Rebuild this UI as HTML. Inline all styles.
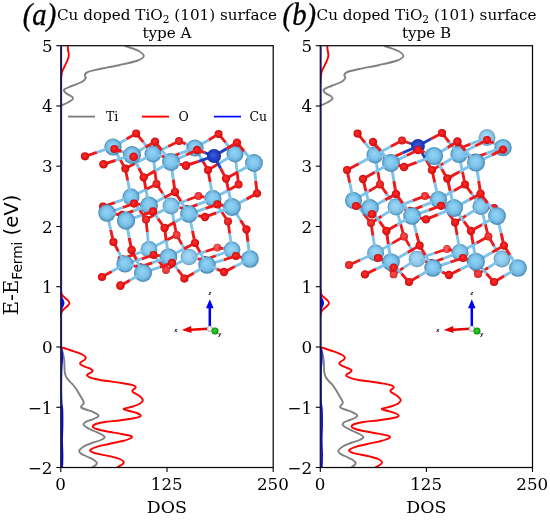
<!DOCTYPE html>
<html lang="en"><head><meta charset="utf-8"><title>Cu doped TiO2 (101) surface DOS</title>
<style>
html,body{margin:0;padding:0;background:#fff}
body{width:550px;height:520px;overflow:hidden}
svg{display:block}
text{font-family:"DejaVu Serif","Liberation Serif",serif;fill:#000}
.tl{font-size:16.7px}
.al{font-size:17.4px}
.yl{font-size:19.6px}
.tt{font-size:15.2px}
.sub{font-size:10.6px}
.lg{font-size:12.5px}
.pl{font-family:"Liberation Serif","DejaVu Serif",serif;font-style:italic;font-size:31px;stroke:#000;stroke-width:0.35px}
.tr{font-family:"Liberation Sans","DejaVu Sans",sans-serif;font-size:5.5px;font-weight:bold;font-style:italic}
.fs{font-family:"DejaVu Sans","Liberation Sans",sans-serif;font-size:13.7px}
.ss{font-family:"DejaVu Sans","Liberation Sans",sans-serif;font-size:19.6px}
.ti,.o,.cu,.cu2,.tk,.bT,.bO,.bC{fill:none}
.ti{stroke:#808080;stroke-width:1.9;stroke-linejoin:round;stroke-linecap:butt}
.o{stroke:#ff0000;stroke-width:1.9;stroke-linejoin:round}
.cu{stroke:#0000ff;stroke-width:1.7;stroke-linejoin:round}
.cuf{fill:#0000ff;stroke:#0000ff;stroke-width:1}
.cu2{stroke:#181878;stroke-width:1.15}
.fr{fill:none;stroke:#0a0a0a;stroke-width:1.25}
.tk{stroke:#000;stroke-width:1.1}
.bT{stroke:#7cc2ea;stroke-linecap:butt}
.bO{stroke:#ec1a1a;stroke-linecap:butt}
.bC{stroke:#2040c4;stroke-linecap:butt}
</style></head>
<body>
<svg width="550" height="520" viewBox="0 0 550 520">
<defs>
<radialGradient id="gT" cx="0.5" cy="0.5" r="0.5" fx="0.44" fy="0.40"><stop offset="0" stop-color="#93d3f7"/><stop offset="0.5" stop-color="#80c6ed"/><stop offset="0.75" stop-color="#6fb6df"/><stop offset="0.9" stop-color="#5799c4"/><stop offset="1" stop-color="#3f7ea8"/></radialGradient>
<radialGradient id="gO" cx="0.5" cy="0.5" r="0.5" fx="0.44" fy="0.40"><stop offset="0" stop-color="#ff3434"/><stop offset="0.55" stop-color="#f01818"/><stop offset="0.85" stop-color="#d81212"/><stop offset="1" stop-color="#b00c0c"/></radialGradient>
<radialGradient id="gC" cx="0.5" cy="0.5" r="0.5" fx="0.44" fy="0.40"><stop offset="0" stop-color="#3a5ce0"/><stop offset="0.55" stop-color="#2344c8"/><stop offset="0.85" stop-color="#1c38ac"/><stop offset="1" stop-color="#142a88"/></radialGradient>
<radialGradient id="gG" cx="0.5" cy="0.5" r="0.5" fx="0.42" fy="0.38"><stop offset="0" stop-color="#35d535"/><stop offset="0.7" stop-color="#12b012"/><stop offset="1" stop-color="#0a7a0a"/></radialGradient>
<radialGradient id="gW" cx="0.5" cy="0.5" r="0.5" fx="0.42" fy="0.38"><stop offset="0" stop-color="#ffffff"/><stop offset="0.7" stop-color="#e0e0e0"/><stop offset="1" stop-color="#8c8c8c"/></radialGradient>
</defs>
<rect width="550" height="520" fill="#fff"/>
<clipPath id="c60"><rect x="60.75" y="45.70" width="212.45" height="421.82"/></clipPath>
<g>
<g clip-path="url(#c60)"><path d="M124.8 46.0C125.6 46.2 127.4 46.7 129.8 47.5C132.1 48.3 136.4 49.6 138.8 51.0C141.1 52.4 143.9 54.4 143.8 56.0C143.6 57.6 141.8 59.0 137.8 60.5C133.8 62.0 126.1 63.6 119.8 65.0C113.4 66.4 105.1 67.8 99.8 69.0C94.4 70.2 90.2 71.0 87.8 72.0C85.2 73.0 85.1 74.0 84.8 75.0C84.4 76.0 86.2 76.8 85.8 78.0C85.2 79.2 84.1 80.7 81.8 82.0C79.4 83.3 74.7 84.8 71.8 86.0C68.8 87.2 65.2 88.3 64.2 89.5C63.2 90.7 64.5 91.8 65.8 93.0C67.0 94.2 70.5 95.5 71.8 96.5C73.0 97.5 73.6 98.0 73.0 99.0C72.3 100.0 69.7 101.4 67.8 102.5C65.8 103.6 62.3 104.9 61.2 105.4" class="ti"/><path d="M60.8 347.0C61.0 347.5 61.6 348.5 62.0 350.0C62.5 351.5 63.2 354.0 63.5 356.0C63.9 358.0 64.2 360.0 64.3 362.0C64.5 364.0 64.5 366.3 64.5 368.0C64.6 369.7 64.5 370.5 64.8 372.0C65.0 373.5 65.4 375.4 66.2 377.0C67.1 378.6 68.6 380.2 69.8 381.5C70.9 382.8 72.1 383.6 73.2 385.0C74.4 386.4 75.7 388.3 76.8 390.0C77.8 391.7 78.8 393.3 79.8 395.0C80.8 396.7 82.1 398.7 82.8 400.0C83.4 401.3 83.9 402.1 83.8 403.0C83.6 403.9 82.2 404.8 81.8 405.5C81.3 406.2 80.6 406.8 81.2 407.5C81.9 408.2 83.8 408.8 85.8 409.5C87.7 410.2 90.7 410.9 92.8 411.8C94.8 412.7 97.6 414.1 98.2 415.0C98.9 415.9 98.0 416.7 96.8 417.5C95.5 418.3 92.8 419.2 90.8 420.0C88.8 420.8 85.9 421.7 84.8 422.5C83.6 423.3 83.4 424.2 83.8 425.0C84.1 425.8 85.1 426.5 86.8 427.5C88.4 428.5 91.4 429.9 93.8 431.0C96.1 432.1 98.9 433.0 100.8 434.0C102.6 435.0 104.8 436.2 104.8 437.2C104.8 438.2 102.9 439.0 100.8 440.0C98.6 441.0 94.6 441.9 91.8 443.0C88.9 444.1 85.8 445.2 83.8 446.5C81.7 447.8 79.8 449.3 79.2 450.5C78.8 451.7 79.5 452.5 80.8 453.5C82.0 454.5 84.8 455.5 86.8 456.5C88.8 457.5 91.1 458.3 92.8 459.3C94.4 460.3 96.2 461.6 96.8 462.5C97.2 463.4 96.5 464.2 95.8 465.0C95.0 465.8 92.8 467.0 92.2 467.4" class="ti"/><path d="M67.8 46.0C67.8 46.7 67.9 48.7 68.0 50.0C68.2 51.3 68.7 52.7 68.8 54.0C68.8 55.3 68.8 56.5 68.3 58.0C67.9 59.5 67.0 61.3 66.2 63.0C65.5 64.7 64.5 66.5 63.8 68.0C63.0 69.5 62.5 70.3 62.0 72.0C61.6 73.7 61.3 76.0 61.0 78.0C60.8 80.0 60.8 83.0 60.8 84.0" class="o"/><path d="M60.8 289.0C60.8 289.2 60.8 290.0 60.9 290.5C60.9 291.0 61.0 291.5 61.1 292.0C61.2 292.5 61.3 293.0 61.5 293.5C61.7 294.0 61.9 294.5 62.3 295.0C62.6 295.5 63.0 296.0 63.5 296.5C64.0 297.0 64.6 297.5 65.1 298.0C65.7 298.5 66.4 299.0 66.9 299.5C67.5 300.0 68.1 300.5 68.5 301.0C68.9 301.5 69.2 302.0 69.3 302.5C69.4 303.0 69.3 303.5 69.1 304.0C68.9 304.5 68.5 305.0 68.0 305.5C67.5 306.0 66.9 306.5 66.3 307.0C65.8 307.5 65.1 308.0 64.5 308.5C64.0 309.0 63.5 309.5 63.0 310.0C62.6 310.5 62.3 311.0 62.0 311.5C61.7 312.0 61.5 312.5 61.3 313.0C61.2 313.5 61.1 314.0 61.0 314.5C60.9 315.0 60.9 315.5 60.8 316.0C60.8 316.5 60.8 317.2 60.8 317.5" class="o"/><path d="M60.8 347.0C61.2 347.2 62.2 347.5 63.8 348.0C65.2 348.5 67.4 349.2 69.8 350.0C72.1 350.8 75.5 351.8 77.8 352.6C80.0 353.4 81.9 354.2 83.2 355.0C84.6 355.8 85.5 356.7 85.8 357.5C86.0 358.3 85.4 358.9 84.8 359.6C84.1 360.3 82.5 361.0 81.8 361.6C81.0 362.2 80.0 362.7 80.0 363.3C80.0 363.9 80.7 364.6 81.8 365.2C82.8 365.8 84.8 366.6 86.2 367.2C87.8 367.8 89.7 368.4 90.8 369.0C91.8 369.6 92.7 370.0 92.8 370.6C92.8 371.2 92.0 371.8 91.2 372.4C90.5 373.0 89.0 373.5 88.2 374.0C87.5 374.5 86.9 374.9 87.0 375.4C87.2 375.9 88.1 376.5 89.2 377.0C90.4 377.5 91.8 378.1 93.8 378.6C95.7 379.1 97.8 379.7 100.8 380.2C103.8 380.7 108.1 381.1 111.8 381.6C115.4 382.1 119.2 382.6 122.8 383.2C126.2 383.8 130.6 384.5 132.8 385.2C134.9 385.9 135.8 386.7 135.8 387.5C135.8 388.3 133.2 389.2 132.8 390.0C132.2 390.8 131.8 391.1 132.8 392.0C133.8 392.9 137.1 394.2 138.8 395.5C140.4 396.8 142.5 398.7 142.8 400.0C143.0 401.3 141.9 402.4 140.2 403.5C138.6 404.6 135.5 405.6 132.8 406.5C130.0 407.4 124.6 408.1 123.8 408.8C122.9 409.5 125.6 409.8 127.8 410.5C129.9 411.2 134.6 412.1 136.8 413.0C138.9 413.9 141.1 415.0 140.8 415.8C140.4 416.6 138.1 417.3 134.8 418.0C131.4 418.7 125.8 419.5 120.8 420.2C115.8 420.9 108.9 421.4 104.8 422.0C100.6 422.6 97.8 423.2 95.8 424.0C93.8 424.8 92.6 426.0 92.8 426.8C92.9 427.6 94.8 428.3 96.8 429.0C98.8 429.7 100.9 430.2 104.8 431.0C108.6 431.8 115.4 432.8 119.8 433.6C124.1 434.4 128.9 435.2 130.8 436.0C132.6 436.8 132.1 437.5 130.8 438.3C129.4 439.1 126.4 440.1 122.8 441.0C119.1 441.9 113.1 443.0 108.8 444.0C104.4 445.0 99.8 445.8 96.8 446.8C93.7 447.8 90.9 449.1 90.2 450.0C89.6 450.9 91.0 451.6 92.8 452.3C94.5 453.0 97.6 453.7 100.8 454.4C103.9 455.1 108.6 455.8 111.8 456.6C114.9 457.4 117.8 458.1 119.8 459.0C121.8 459.9 123.4 461.0 123.8 462.0C124.1 463.0 122.9 463.9 121.8 464.8C120.6 465.7 117.6 467.0 116.8 467.4" class="o"/><path d="M60.8 291.0C60.8 291.2 60.8 292.0 60.9 292.5C60.9 293.0 60.9 293.5 61.0 294.0C61.1 294.5 61.2 295.0 61.3 295.5C61.4 296.0 61.6 296.5 61.8 297.0C62.0 297.5 62.2 298.0 62.4 298.5C62.7 299.0 63.0 299.5 63.2 300.0C63.4 300.5 63.6 301.0 63.7 301.5C63.9 302.0 64.0 302.5 64.0 303.0C64.0 303.5 63.9 304.0 63.7 304.5C63.6 305.0 63.4 305.5 63.2 306.0C63.0 306.5 62.7 307.0 62.4 307.5C62.2 308.0 62.0 308.5 61.8 309.0C61.6 309.5 61.4 310.0 61.3 310.5C61.2 311.0 61.1 311.5 61.0 312.0C60.9 312.5 60.9 313.0 60.9 313.5C60.8 314.0 60.8 314.8 60.8 315.0Z" class="cuf"/><path d="M60.8 347.0C61.0 347.8 61.8 349.5 62.0 352.0C62.3 354.5 62.2 358.7 62.0 362.0C61.9 365.3 61.5 365.7 61.4 372.0C61.2 378.3 61.2 393.7 61.4 400.0C61.5 406.3 62.2 405.8 62.4 410.0C62.5 414.2 62.6 420.0 62.5 425.0C62.5 430.0 62.1 435.0 62.1 440.0C62.1 445.0 62.5 450.4 62.5 455.0C62.6 459.6 62.3 465.3 62.2 467.4" class="cu"/></g>
<rect x="60.8" y="45.7" width="212.4" height="421.8" class="fr"/>
<path d="M61.55 46.2V467.0" class="cu2"/>
<path d="M60.8 467.5v4.5" class="tk"/><text x="60.5" y="489.8" class="tl" text-anchor="middle">0</text><path d="M167.0 467.5v4.5" class="tk"/><text x="166.7" y="489.8" class="tl" text-anchor="middle">125</text><path d="M273.2 467.5v4.5" class="tk"/><text x="272.9" y="489.8" class="tl" text-anchor="middle">250</text><path d="M60.8 467.5h-4.5" class="tk"/><text x="52.5" y="473.7" class="tl" text-anchor="end">−2</text><path d="M60.8 407.3h-4.5" class="tk"/><text x="52.5" y="413.5" class="tl" text-anchor="end">−1</text><path d="M60.8 347.0h-4.5" class="tk"/><text x="52.5" y="353.2" class="tl" text-anchor="end">0</text><path d="M60.8 286.7h-4.5" class="tk"/><text x="52.5" y="292.9" class="tl" text-anchor="end">1</text><path d="M60.8 226.5h-4.5" class="tk"/><text x="52.5" y="232.7" class="tl" text-anchor="end">2</text><path d="M60.8 166.2h-4.5" class="tk"/><text x="52.5" y="172.4" class="tl" text-anchor="end">3</text><path d="M60.8 106.0h-4.5" class="tk"/><text x="52.5" y="112.2" class="tl" text-anchor="end">4</text><path d="M60.8 45.7h-4.5" class="tk"/><text x="52.5" y="51.9" class="tl" text-anchor="end">5</text>
</g>
<clipPath id="c320"><rect x="320.30" y="45.70" width="212.25" height="421.82"/></clipPath>
<g>
<g clip-path="url(#c320)"><path d="M384.3 46.0C385.1 46.2 387.0 46.7 389.3 47.5C391.6 48.3 396.0 49.6 398.3 51.0C400.6 52.4 403.5 54.4 403.3 56.0C403.1 57.6 401.3 59.0 397.3 60.5C393.3 62.0 385.6 63.6 379.3 65.0C373.0 66.4 364.6 67.8 359.3 69.0C354.0 70.2 349.8 71.0 347.3 72.0C344.8 73.0 344.6 74.0 344.3 75.0C344.0 76.0 345.8 76.8 345.3 78.0C344.8 79.2 343.6 80.7 341.3 82.0C339.0 83.3 334.2 84.8 331.3 86.0C328.4 87.2 324.8 88.3 323.8 89.5C322.8 90.7 324.1 91.8 325.3 93.0C326.6 94.2 330.1 95.5 331.3 96.5C332.5 97.5 333.2 98.0 332.5 99.0C331.8 100.0 329.2 101.4 327.3 102.5C325.4 103.6 321.9 104.9 320.8 105.4" class="ti"/><path d="M320.3 347.0C320.5 347.5 321.1 348.5 321.6 350.0C322.0 351.5 322.7 354.0 323.0 356.0C323.4 358.0 323.7 360.0 323.8 362.0C324.0 364.0 324.0 366.3 324.0 368.0C324.1 369.7 323.9 370.5 324.2 372.0C324.5 373.5 324.9 375.4 325.7 377.0C326.5 378.6 328.0 380.2 329.1 381.5C330.3 382.8 331.4 383.6 332.6 385.0C333.7 386.4 334.9 388.3 336.0 390.0C337.0 391.7 337.9 393.3 338.9 395.0C339.9 396.7 341.2 398.7 341.9 400.0C342.5 401.3 343.0 402.1 342.8 403.0C342.7 403.9 341.3 404.8 340.9 405.5C340.5 406.2 339.7 406.8 340.4 407.5C341.0 408.2 342.9 408.8 344.8 409.5C346.7 410.2 349.6 410.9 351.7 411.8C353.7 412.7 356.4 414.1 357.1 415.0C357.7 415.9 356.8 416.7 355.6 417.5C354.4 418.3 351.7 419.2 349.7 420.0C347.7 420.8 345.0 421.7 343.8 422.5C342.7 423.3 342.5 424.2 342.8 425.0C343.2 425.8 344.1 426.5 345.8 427.5C347.4 428.5 350.4 429.9 352.6 431.0C354.9 432.1 357.7 433.0 359.5 434.0C361.3 435.0 363.4 436.2 363.4 437.2C363.4 438.2 361.6 439.0 359.5 440.0C357.4 441.0 353.5 441.9 350.7 443.0C347.9 444.1 344.9 445.2 342.8 446.5C340.8 447.8 338.9 449.3 338.4 450.5C337.9 451.7 338.7 452.5 339.9 453.5C341.1 454.5 343.8 455.5 345.8 456.5C347.7 457.5 350.0 458.3 351.7 459.3C353.3 460.3 355.1 461.6 355.6 462.5C356.1 463.4 355.3 464.2 354.6 465.0C353.9 465.8 351.7 467.0 351.2 467.4" class="ti"/><path d="M327.3 46.0C327.4 46.7 327.4 48.7 327.6 50.0C327.8 51.3 328.2 52.7 328.3 54.0C328.4 55.3 328.3 56.5 327.9 58.0C327.5 59.5 326.6 61.3 325.8 63.0C325.0 64.7 324.0 66.5 323.3 68.0C322.6 69.5 322.1 70.3 321.6 72.0C321.2 73.7 320.8 76.0 320.6 78.0C320.4 80.0 320.4 83.0 320.3 84.0" class="o"/><path d="M320.3 289.0C320.4 289.2 320.4 290.0 320.4 290.5C320.5 291.0 320.5 291.5 320.6 292.0C320.7 292.5 320.8 293.0 321.0 293.5C321.2 294.0 321.5 294.5 321.8 295.0C322.2 295.5 322.6 296.0 323.0 296.5C323.5 297.0 324.1 297.5 324.7 298.0C325.2 298.5 325.9 299.0 326.5 299.5C327.0 300.0 327.6 300.5 328.0 301.0C328.4 301.5 328.7 302.0 328.8 302.5C329.0 303.0 328.9 303.5 328.7 304.0C328.5 304.5 328.0 305.0 327.6 305.5C327.1 306.0 326.5 306.5 325.9 307.0C325.3 307.5 324.6 308.0 324.1 308.5C323.5 309.0 323.0 309.5 322.6 310.0C322.2 310.5 321.8 311.0 321.5 311.5C321.2 312.0 321.0 312.5 320.9 313.0C320.7 313.5 320.6 314.0 320.5 314.5C320.5 315.0 320.4 315.5 320.4 316.0C320.4 316.5 320.3 317.2 320.3 317.5" class="o"/><path d="M320.3 347.0C320.8 347.2 321.8 347.5 323.2 348.0C324.7 348.5 326.8 349.2 329.1 350.0C331.4 350.8 334.8 351.8 337.0 352.6C339.2 353.4 341.0 354.2 342.4 355.0C343.7 355.8 344.6 356.7 344.8 357.5C345.0 358.3 344.5 358.9 343.8 359.6C343.2 360.3 341.6 361.0 340.9 361.6C340.1 362.2 339.2 362.7 339.2 363.3C339.2 363.9 339.9 364.6 340.9 365.2C341.9 365.8 343.8 366.6 345.3 367.2C346.8 367.8 348.6 368.4 349.7 369.0C350.8 369.6 351.6 370.0 351.7 370.6C351.7 371.2 350.9 371.8 350.2 372.4C349.5 373.0 347.9 373.5 347.2 374.0C346.6 374.5 345.9 374.9 346.1 375.4C346.2 375.9 347.1 376.5 348.2 377.0C349.3 377.5 350.8 378.1 352.6 378.6C354.5 379.1 356.6 379.7 359.5 380.2C362.4 380.7 366.7 381.1 370.3 381.6C373.9 382.1 377.6 382.6 381.1 383.2C384.5 383.8 388.7 384.5 390.9 385.2C393.0 385.9 393.8 386.7 393.8 387.5C393.8 388.3 391.4 389.2 390.9 390.0C390.4 390.8 389.9 391.1 390.9 392.0C391.8 392.9 395.1 394.2 396.7 395.5C398.4 396.8 400.4 398.7 400.7 400.0C400.9 401.3 399.8 402.4 398.2 403.5C396.6 404.6 393.6 405.6 390.9 406.5C388.2 407.4 382.9 408.1 382.0 408.8C381.2 409.5 383.8 409.8 386.0 410.5C388.1 411.2 392.7 412.1 394.8 413.0C396.9 413.9 399.0 415.0 398.7 415.8C398.4 416.6 396.1 417.3 392.8 418.0C389.6 418.7 384.0 419.5 379.1 420.2C374.2 420.9 367.5 421.4 363.4 422.0C359.3 422.6 356.6 423.2 354.6 424.0C352.6 424.8 351.5 426.0 351.7 426.8C351.8 427.6 353.6 428.3 355.6 429.0C357.5 429.7 359.7 430.2 363.4 431.0C367.2 431.8 373.9 432.8 378.1 433.6C382.4 434.4 387.1 435.2 388.9 436.0C390.7 436.8 390.2 437.5 388.9 438.3C387.6 439.1 384.7 440.1 381.1 441.0C377.5 441.9 371.6 443.0 367.3 444.0C363.1 445.0 358.6 445.8 355.6 446.8C352.6 447.8 349.9 449.1 349.2 450.0C348.6 450.9 349.9 451.6 351.7 452.3C353.4 453.0 356.4 453.7 359.5 454.4C362.6 455.1 367.2 455.8 370.3 456.6C373.4 457.4 376.2 458.1 378.1 459.0C380.1 459.9 381.7 461.0 382.0 462.0C382.4 463.0 381.2 463.9 380.1 464.8C378.9 465.7 376.0 467.0 375.2 467.4" class="o"/><path d="M320.3 291.0C320.3 291.2 320.4 292.0 320.4 292.5C320.4 293.0 320.5 293.5 320.6 294.0C320.6 294.5 320.7 295.0 320.9 295.5C321.0 296.0 321.1 296.5 321.3 297.0C321.5 297.5 321.8 298.0 322.0 298.5C322.2 299.0 322.5 299.5 322.7 300.0C322.9 300.5 323.2 301.0 323.3 301.5C323.4 302.0 323.5 302.5 323.5 303.0C323.5 303.5 323.4 304.0 323.3 304.5C323.2 305.0 322.9 305.5 322.7 306.0C322.5 306.5 322.2 307.0 322.0 307.5C321.8 308.0 321.5 308.5 321.3 309.0C321.1 309.5 321.0 310.0 320.9 310.5C320.7 311.0 320.6 311.5 320.6 312.0C320.5 312.5 320.4 313.0 320.4 313.5C320.4 314.0 320.3 314.8 320.3 315.0Z" class="cuf"/><path d="M320.3 347.0C320.5 347.8 321.4 349.5 321.6 352.0C321.8 354.5 321.7 358.7 321.6 362.0C321.5 365.3 321.0 365.7 320.9 372.0C320.8 378.3 320.7 393.7 320.9 400.0C321.1 406.3 321.7 405.8 321.9 410.0C322.1 414.2 322.1 420.0 322.1 425.0C322.0 430.0 321.7 435.0 321.7 440.0C321.7 445.0 322.0 450.4 322.1 455.0C322.1 459.6 321.8 465.3 321.8 467.4" class="cu"/></g>
<rect x="320.3" y="45.7" width="212.2" height="421.8" class="fr"/>
<path d="M321.10 46.2V467.0" class="cu2"/>
<path d="M320.3 467.5v4.5" class="tk"/><text x="320.0" y="489.8" class="tl" text-anchor="middle">0</text><path d="M426.4 467.5v4.5" class="tk"/><text x="426.1" y="489.8" class="tl" text-anchor="middle">125</text><path d="M532.5 467.5v4.5" class="tk"/><text x="532.2" y="489.8" class="tl" text-anchor="middle">250</text><path d="M320.3 467.5h-4.5" class="tk"/><text x="312.1" y="473.7" class="tl" text-anchor="end">−2</text><path d="M320.3 407.3h-4.5" class="tk"/><text x="312.1" y="413.5" class="tl" text-anchor="end">−1</text><path d="M320.3 347.0h-4.5" class="tk"/><text x="312.1" y="353.2" class="tl" text-anchor="end">0</text><path d="M320.3 286.7h-4.5" class="tk"/><text x="312.1" y="292.9" class="tl" text-anchor="end">1</text><path d="M320.3 226.5h-4.5" class="tk"/><text x="312.1" y="232.7" class="tl" text-anchor="end">2</text><path d="M320.3 166.2h-4.5" class="tk"/><text x="312.1" y="172.4" class="tl" text-anchor="end">3</text><path d="M320.3 106.0h-4.5" class="tk"/><text x="312.1" y="112.2" class="tl" text-anchor="end">4</text><path d="M320.3 45.7h-4.5" class="tk"/><text x="312.1" y="51.9" class="tl" text-anchor="end">5</text>
</g>
<g><circle cx="217.4" cy="247.6" r="3.9" fill="url(#gO)"/><circle cx="217.4" cy="247.6" r="3.9" fill="#fff" fill-opacity="0.24"/><path d="M214.5 248.6L205.5 251.5" class="bO" stroke-width="2.75"/><path d="M195.3 254.9L205.5 251.5" class="bT" stroke-width="2.75"/><path d="M218.9 247.8L223.5 248.6" class="bO" stroke-width="2.77"/><circle cx="189.0" cy="257.0" r="8.3" fill="url(#gT)"/><circle cx="189.0" cy="257.0" r="8.3" fill="#fff" fill-opacity="0.19"/><path d="M183.9 259.9L175.7 264.5" class="bT" stroke-width="2.77"/><path d="M186.3 252.1L181.8 244.2" class="bT" stroke-width="2.77"/><path d="M168.4 268.6L175.7 264.5" class="bO" stroke-width="2.77"/><path d="M177.9 237.3L181.8 244.2" class="bO" stroke-width="2.77"/><path d="M192.3 257.7L197.7 258.8" class="bT" stroke-width="2.80"/><circle cx="166.0" cy="270.0" r="3.9" fill="url(#gO)"/><circle cx="166.0" cy="270.0" r="3.9" fill="#fff" fill-opacity="0.15"/><circle cx="198.5" cy="196.0" r="3.9" fill="url(#gO)"/><circle cx="198.5" cy="196.0" r="3.9" fill="#fff" fill-opacity="0.15"/><circle cx="176.6" cy="235.0" r="3.9" fill="url(#gO)"/><circle cx="176.6" cy="235.0" r="3.9" fill="#fff" fill-opacity="0.14"/><path d="M195.6 197.0L186.9 200.2" class="bO" stroke-width="2.79"/><path d="M164.2 267.8L158.9 261.3" class="bO" stroke-width="2.79"/><path d="M176.0 232.0L174.2 222.8" class="bO" stroke-width="2.79"/><path d="M173.8 236.5L165.0 241.0" class="bO" stroke-width="2.79"/><path d="M228.7 249.5L223.5 248.6" class="bT" stroke-width="2.77"/><path d="M177.2 203.8L186.9 200.2" class="bT" stroke-width="2.79"/><path d="M200.0 196.3L204.6 197.1" class="bO" stroke-width="2.80"/><path d="M172.3 212.5L174.2 222.8" class="bT" stroke-width="2.79"/><path d="M152.8 254.0L158.9 261.3" class="bT" stroke-width="2.79"/><path d="M155.0 246.3L165.0 241.0" class="bT" stroke-width="2.79"/><circle cx="171.0" cy="206.0" r="8.4" fill="url(#gT)"/><circle cx="171.0" cy="206.0" r="8.4" fill="#fff" fill-opacity="0.10"/><circle cx="149.0" cy="249.4" r="8.4" fill="url(#gT)"/><circle cx="149.0" cy="249.4" r="8.4" fill="#fff" fill-opacity="0.09"/><path d="M165.4 209.0L156.5 213.8" class="bT" stroke-width="2.81"/><path d="M167.8 201.1L162.6 193.2" class="bT" stroke-width="2.81"/><circle cx="232.0" cy="250.0" r="8.4" fill="url(#gT)"/><circle cx="232.0" cy="250.0" r="8.4" fill="#fff" fill-opacity="0.08"/><path d="M148.3 242.7L147.3 232.1" class="bT" stroke-width="2.81"/><path d="M142.9 251.5L133.1 254.9" class="bT" stroke-width="2.81"/><path d="M231.1 243.6L229.7 233.5" class="bT" stroke-width="2.81"/><path d="M202.5 259.7L197.7 258.8" class="bO" stroke-width="2.80"/><path d="M225.7 252.3L215.8 255.8" class="bT" stroke-width="2.81"/><path d="M148.7 218.1L156.5 213.8" class="bO" stroke-width="2.81"/><path d="M146.3 222.7L147.3 232.1" class="bO" stroke-width="2.81"/><path d="M158.0 186.3L162.6 193.2" class="bO" stroke-width="2.81"/><path d="M124.5 257.9L133.1 254.9" class="bO" stroke-width="2.81"/><path d="M174.4 206.7L179.8 207.7" class="bT" stroke-width="2.83"/><circle cx="146.0" cy="219.5" r="4.0" fill="url(#gO)"/><circle cx="146.0" cy="219.5" r="4.0" fill="#fff" fill-opacity="0.05"/><circle cx="179.0" cy="141.0" r="4.0" fill="url(#gO)"/><circle cx="179.0" cy="141.0" r="4.0" fill="#fff" fill-opacity="0.05"/><path d="M228.4 224.5L229.7 233.5" class="bO" stroke-width="2.81"/><path d="M207.0 259.0L215.8 255.8" class="bO" stroke-width="2.81"/><circle cx="121.6" cy="258.9" r="4.0" fill="url(#gO)"/><circle cx="121.6" cy="258.9" r="4.0" fill="#fff" fill-opacity="0.04"/><circle cx="228.0" cy="221.5" r="4.0" fill="url(#gO)"/><circle cx="228.0" cy="221.5" r="4.0" fill="#fff" fill-opacity="0.04"/><circle cx="156.5" cy="184.0" r="4.0" fill="url(#gO)"/><circle cx="156.5" cy="184.0" r="4.0" fill="#fff" fill-opacity="0.04"/><path d="M176.2 142.4L168.1 146.5" class="bO" stroke-width="2.82"/><path d="M144.4 217.1L139.7 210.1" class="bO" stroke-width="2.82"/><path d="M150.0 250.7L151.7 252.6" class="bT" stroke-width="2.84"/><path d="M156.1 180.8L155.0 171.4" class="bO" stroke-width="2.82"/><circle cx="204.1" cy="260.1" r="4.0" fill="url(#gO)"/><circle cx="204.1" cy="260.1" r="4.0" fill="#fff" fill-opacity="0.03"/><circle cx="238.6" cy="184.6" r="4.0" fill="url(#gO)"/><circle cx="238.6" cy="184.6" r="4.0" fill="#fff" fill-opacity="0.03"/><path d="M153.8 185.4L145.8 189.5" class="bO" stroke-width="2.82"/><path d="M209.7 197.9L204.6 197.1" class="bT" stroke-width="2.80"/><path d="M226.4 219.1L221.7 211.8" class="bO" stroke-width="2.82"/><path d="M232.9 251.3L234.3 253.5" class="bT" stroke-width="2.84"/><path d="M238.2 181.4L237.1 171.7" class="bO" stroke-width="2.83"/><path d="M235.9 186.1L227.8 190.4" class="bO" stroke-width="2.83"/><path d="M158.9 151.1L168.1 146.5" class="bT" stroke-width="2.82"/><path d="M180.7 141.7L185.7 143.9" class="bO" stroke-width="2.84"/><path d="M153.8 160.7L155.0 171.4" class="bT" stroke-width="2.82"/><path d="M134.4 202.1L139.7 210.1" class="bT" stroke-width="2.82"/><path d="M136.8 194.1L145.8 189.5" class="bT" stroke-width="2.82"/><path d="M235.8 160.8L237.1 171.7" class="bT" stroke-width="2.83"/><path d="M122.0 259.5L123.0 261.0" class="bO" stroke-width="2.84"/><circle cx="153.0" cy="154.0" r="8.5" fill="url(#gT)"/><path d="M216.4 203.7L221.7 211.8" class="bT" stroke-width="2.82"/><path d="M218.8 195.3L227.8 190.4" class="bT" stroke-width="2.83"/><path d="M204.4 260.6L205.3 262.1" class="bO" stroke-width="2.85"/><circle cx="131.0" cy="197.0" r="8.5" fill="url(#gT)"/><circle cx="235.0" cy="154.0" r="8.5" fill="url(#gT)"/><path d="M147.0 157.2L136.9 162.5" class="bT" stroke-width="2.84"/><path d="M149.2 149.3L143.3 142.1" class="bT" stroke-width="2.84"/><circle cx="213.0" cy="198.5" r="8.5" fill="url(#gT)"/><path d="M129.7 190.6L127.7 180.5" class="bT" stroke-width="2.84"/><path d="M124.7 199.2L114.8 202.6" class="bT" stroke-width="2.84"/><path d="M229.1 157.5L219.3 163.3" class="bT" stroke-width="2.84"/><path d="M231.3 149.5L225.5 142.4" class="bT" stroke-width="2.85"/><path d="M211.9 192.0L210.1 182.0" class="bT" stroke-width="2.84"/><path d="M184.5 208.7L179.8 207.7" class="bO" stroke-width="2.83"/><path d="M206.9 200.9L197.4 204.6" class="bT" stroke-width="2.85"/><path d="M128.1 167.1L136.9 162.5" class="bO" stroke-width="2.84"/><path d="M125.9 171.6L127.7 180.5" class="bO" stroke-width="2.84"/><path d="M138.0 135.6L143.3 142.1" class="bO" stroke-width="2.84"/><path d="M106.0 205.6L114.8 202.6" class="bO" stroke-width="2.84"/><path d="M156.4 154.9L161.8 156.2" class="bT" stroke-width="2.86"/><path d="M210.8 168.4L219.3 163.3" class="bO" stroke-width="2.84"/><circle cx="125.3" cy="168.6" r="4.0" fill="url(#gO)"/><path d="M208.5 173.1L210.1 182.0" class="bO" stroke-width="2.84"/><path d="M220.4 136.2L225.5 142.4" class="bO" stroke-width="2.85"/><path d="M189.0 207.8L197.4 204.6" class="bO" stroke-width="2.85"/><path d="M153.1 254.4L151.7 252.6" class="bO" stroke-width="2.84"/><circle cx="103.0" cy="206.6" r="4.0" fill="url(#gO)"/><circle cx="208.0" cy="170.0" r="4.0" fill="url(#gO)"/><circle cx="136.2" cy="133.4" r="4.0" fill="url(#gO)"/><path d="M124.0 166.3L120.1 159.5" class="bO" stroke-width="2.86"/><path d="M131.7 198.5L132.7 200.8" class="bT" stroke-width="2.87"/><path d="M235.6 255.4L234.3 253.5" class="bO" stroke-width="2.84"/><circle cx="186.1" cy="209.0" r="4.0" fill="url(#gO)"/><circle cx="218.6" cy="134.0" r="4.0" fill="url(#gO)"/><path d="M133.7 134.9L126.5 139.1" class="bO" stroke-width="2.86"/><path d="M191.3 146.4L185.7 143.9" class="bT" stroke-width="2.84"/><path d="M206.6 167.6L202.5 160.8" class="bO" stroke-width="2.86"/><path d="M214.0 199.8L215.6 201.9" class="bT" stroke-width="2.87"/><path d="M216.1 135.5L208.7 139.9" class="bO" stroke-width="2.86"/><path d="M115.8 152.0L120.1 159.5" class="bT" stroke-width="2.86"/><path d="M124.2 262.8L123.0 261.0" class="bT" stroke-width="2.84"/><path d="M118.3 143.9L126.5 139.1" class="bT" stroke-width="2.86"/><circle cx="153.6" cy="255.0" r="4.0" fill="url(#gO)"/><path d="M103.4 207.3L104.7 209.3" class="bO" stroke-width="2.88"/><path d="M198.0 153.1L202.5 160.8" class="bT" stroke-width="2.86"/><path d="M206.3 263.9L205.3 262.1" class="bT" stroke-width="2.85"/><path d="M200.4 144.8L208.7 139.9" class="bT" stroke-width="2.86"/><circle cx="236.0" cy="256.0" r="4.1" fill="url(#gO)"/><path d="M186.4 209.5L187.3 211.1" class="bO" stroke-width="2.88"/><path d="M150.5 256.0L141.6 258.8" class="bO" stroke-width="2.87"/><circle cx="113.0" cy="147.0" r="8.6" fill="url(#gT)"/><path d="M232.9 257.0L223.8 259.8" class="bO" stroke-width="2.87"/><circle cx="195.0" cy="148.0" r="8.6" fill="url(#gT)"/><path d="M106.6 149.1L96.8 152.4" class="bT" stroke-width="2.88"/><path d="M166.5 157.5L161.8 156.2" class="bO" stroke-width="2.86"/><path d="M131.6 261.9L141.6 258.8" class="bT" stroke-width="2.87"/><path d="M188.8 150.3L179.4 153.7" class="bT" stroke-width="2.88"/><path d="M155.2 255.2L159.9 255.8" class="bO" stroke-width="2.89"/><path d="M213.6 262.9L223.8 259.8" class="bT" stroke-width="2.87"/><path d="M237.5 256.3L241.9 257.3" class="bO" stroke-width="2.89"/><circle cx="125.0" cy="264.0" r="8.6" fill="url(#gT)"/><path d="M88.0 155.3L96.8 152.4" class="bO" stroke-width="2.88"/><circle cx="207.0" cy="265.0" r="8.7" fill="url(#gT)"/><path d="M171.1 156.8L179.4 153.7" class="bO" stroke-width="2.88"/><path d="M133.7 202.9L132.7 200.8" class="bO" stroke-width="2.87"/><circle cx="85.0" cy="156.3" r="4.1" fill="url(#gO)"/><path d="M119.7 267.0L111.7 271.5" class="bT" stroke-width="2.89"/><path d="M113.3 147.5L113.8 148.2" class="bT" stroke-width="2.91"/><path d="M122.3 258.9L118.3 251.2" class="bT" stroke-width="2.89"/><path d="M216.9 203.8L215.6 201.9" class="bO" stroke-width="2.87"/><circle cx="168.2" cy="157.9" r="4.1" fill="url(#gO)"/><path d="M201.8 268.1L193.9 272.9" class="bT" stroke-width="2.89"/><path d="M195.5 148.5L196.2 149.2" class="bT" stroke-width="2.91"/><path d="M204.2 259.9L200.0 252.2" class="bT" stroke-width="2.90"/><path d="M104.5 275.6L111.7 271.5" class="bO" stroke-width="2.89"/><path d="M106.1 211.5L104.7 209.3" class="bT" stroke-width="2.88"/><path d="M114.7 244.4L118.3 251.2" class="bO" stroke-width="2.89"/><path d="M128.5 264.7L133.8 265.8" class="bT" stroke-width="2.91"/><path d="M186.9 277.1L193.9 272.9" class="bO" stroke-width="2.89"/><circle cx="102.0" cy="277.0" r="4.1" fill="url(#gO)"/><circle cx="134.0" cy="203.6" r="4.1" fill="url(#gO)"/><path d="M188.3 212.8L187.3 211.1" class="bT" stroke-width="2.88"/><path d="M196.3 245.4L200.0 252.2" class="bO" stroke-width="2.90"/><path d="M210.9 266.6L216.9 269.1" class="bT" stroke-width="2.92"/><circle cx="184.4" cy="278.6" r="4.1" fill="url(#gO)"/><circle cx="113.4" cy="242.0" r="4.1" fill="url(#gO)"/><circle cx="217.4" cy="204.4" r="4.1" fill="url(#gO)"/><path d="M168.5 158.3L169.4 159.6" class="bO" stroke-width="2.92"/><path d="M131.0 204.6L122.7 207.5" class="bO" stroke-width="2.91"/><path d="M112.7 238.8L110.7 229.8" class="bO" stroke-width="2.91"/><circle cx="195.0" cy="243.0" r="4.1" fill="url(#gO)"/><path d="M165.0 256.5L159.9 255.8" class="bT" stroke-width="2.89"/><path d="M214.3 205.5L205.5 208.4" class="bO" stroke-width="2.91"/><path d="M182.7 276.2L177.7 269.5" class="bO" stroke-width="2.91"/><path d="M194.3 239.8L192.5 230.8" class="bO" stroke-width="2.91"/><path d="M192.1 244.5L183.9 248.9" class="bO" stroke-width="2.91"/><path d="M246.7 258.3L241.9 257.3" class="bT" stroke-width="2.89"/><path d="M113.3 210.8L122.7 207.5" class="bT" stroke-width="2.91"/><path d="M135.6 203.8L140.3 204.4" class="bO" stroke-width="2.92"/><path d="M108.5 219.8L110.7 229.8" class="bT" stroke-width="2.91"/><path d="M195.6 211.8L205.5 208.4" class="bT" stroke-width="2.91"/><path d="M219.0 204.7L223.5 205.5" class="bO" stroke-width="2.93"/><path d="M190.4 220.8L192.5 230.8" class="bT" stroke-width="2.91"/><circle cx="107.0" cy="213.0" r="8.7" fill="url(#gT)"/><path d="M172.2 262.0L177.7 269.5" class="bT" stroke-width="2.91"/><path d="M174.7 253.7L183.9 248.9" class="bT" stroke-width="2.91"/><circle cx="189.0" cy="214.0" r="8.8" fill="url(#gT)"/><path d="M114.2 148.8L113.8 148.2" class="bO" stroke-width="2.91"/><circle cx="168.5" cy="257.0" r="8.8" fill="url(#gT)"/><path d="M196.8 149.8L196.2 149.2" class="bO" stroke-width="2.91"/><path d="M183.3 217.3L174.8 222.1" class="bT" stroke-width="2.93"/><path d="M185.7 208.9L180.9 201.2" class="bT" stroke-width="2.93"/><circle cx="250.0" cy="259.0" r="8.8" fill="url(#gT)"/><path d="M167.6 250.2L166.2 240.2" class="bT" stroke-width="2.93"/><path d="M138.5 266.8L133.8 265.8" class="bO" stroke-width="2.91"/><path d="M161.9 259.4L152.1 262.9" class="bT" stroke-width="2.93"/><path d="M249.2 252.1L247.9 241.8" class="bT" stroke-width="2.93"/><path d="M222.1 271.2L216.9 269.1" class="bO" stroke-width="2.92"/><path d="M243.9 262.0L234.9 266.5" class="bT" stroke-width="2.94"/><path d="M110.5 213.5L115.7 214.2" class="bT" stroke-width="2.95"/><path d="M167.3 226.5L174.8 222.1" class="bO" stroke-width="2.93"/><circle cx="114.4" cy="149.0" r="4.1" fill="url(#gO)"/><path d="M165.0 231.2L166.2 240.2" class="bO" stroke-width="2.93"/><path d="M170.3 161.0L169.4 159.6" class="bT" stroke-width="2.92"/><path d="M176.6 194.4L180.9 201.2" class="bO" stroke-width="2.93"/><path d="M143.3 266.0L152.1 262.9" class="bO" stroke-width="2.93"/><path d="M192.7 214.7L198.3 215.7" class="bT" stroke-width="2.95"/><circle cx="164.6" cy="228.0" r="4.2" fill="url(#gO)"/><circle cx="197.0" cy="150.0" r="4.2" fill="url(#gO)"/><path d="M246.8 232.7L247.9 241.8" class="bO" stroke-width="2.93"/><path d="M226.9 270.6L234.9 266.5" class="bO" stroke-width="2.94"/><circle cx="140.1" cy="267.2" r="4.2" fill="url(#gO)"/><circle cx="246.4" cy="229.4" r="4.2" fill="url(#gO)"/><circle cx="175.0" cy="192.0" r="4.2" fill="url(#gO)"/><path d="M145.5 205.1L140.3 204.4" class="bT" stroke-width="2.92"/><path d="M194.1 151.3L186.1 155.0" class="bO" stroke-width="2.94"/><path d="M162.9 225.5L158.0 218.6" class="bO" stroke-width="2.94"/><path d="M169.3 258.4L170.5 260.5" class="bT" stroke-width="2.96"/><path d="M174.6 188.7L173.3 179.4" class="bO" stroke-width="2.95"/><circle cx="224.0" cy="272.0" r="4.2" fill="url(#gO)"/><circle cx="257.0" cy="193.4" r="4.2" fill="url(#gO)"/><path d="M172.1 193.5L164.1 197.7" class="bO" stroke-width="2.95"/><path d="M228.5 206.4L223.5 205.5" class="bT" stroke-width="2.93"/><path d="M244.8 226.9L240.4 220.0" class="bO" stroke-width="2.95"/><path d="M116.3 149.7L121.8 151.5" class="bO" stroke-width="2.96"/><path d="M256.7 190.1L255.7 180.6" class="bO" stroke-width="2.95"/><path d="M254.2 194.9L246.5 199.1" class="bO" stroke-width="2.95"/><path d="M177.1 159.2L186.1 155.0" class="bT" stroke-width="2.94"/><path d="M171.9 169.0L173.3 179.4" class="bT" stroke-width="2.95"/><path d="M198.9 150.7L204.7 152.7" class="bO" stroke-width="2.96"/><path d="M152.7 210.8L158.0 218.6" class="bT" stroke-width="2.94"/><path d="M155.1 202.3L164.1 197.7" class="bT" stroke-width="2.95"/><path d="M254.7 170.1L255.7 180.6" class="bT" stroke-width="2.95"/><path d="M140.5 267.8L141.3 269.6" class="bO" stroke-width="2.97"/><circle cx="171.0" cy="162.0" r="8.9" fill="url(#gT)"/><path d="M235.4 212.3L240.4 220.0" class="bT" stroke-width="2.95"/><path d="M237.9 203.8L246.5 199.1" class="bT" stroke-width="2.95"/><circle cx="149.0" cy="205.5" r="8.9" fill="url(#gT)"/><circle cx="254.0" cy="163.0" r="8.9" fill="url(#gT)"/><path d="M164.8 165.5L155.2 170.9" class="bT" stroke-width="2.96"/><path d="M167.2 157.2L161.7 150.2" class="bT" stroke-width="2.96"/><circle cx="232.0" cy="207.0" r="8.9" fill="url(#gT)"/><path d="M147.7 198.9L145.9 189.2" class="bT" stroke-width="2.96"/><path d="M120.3 214.8L115.7 214.2" class="bO" stroke-width="2.95"/><path d="M142.6 207.7L133.3 211.0" class="bT" stroke-width="2.97"/><path d="M247.8 166.5L237.8 172.0" class="bT" stroke-width="2.97"/><path d="M250.0 158.2L244.1 151.2" class="bT" stroke-width="2.97"/><path d="M230.6 200.3L228.5 190.5" class="bT" stroke-width="2.97"/><path d="M203.2 216.7L198.3 215.7" class="bO" stroke-width="2.95"/><path d="M225.6 209.4L216.3 212.8" class="bT" stroke-width="2.97"/><path d="M146.6 175.7L155.2 170.9" class="bO" stroke-width="2.96"/><path d="M144.3 180.5L145.9 189.2" class="bO" stroke-width="2.96"/><path d="M156.8 144.0L161.7 150.2" class="bO" stroke-width="2.96"/><path d="M125.0 213.9L133.3 211.0" class="bO" stroke-width="2.97"/><path d="M174.5 162.9L179.7 164.1" class="bT" stroke-width="2.99"/><path d="M228.9 177.0L237.8 172.0" class="bO" stroke-width="2.97"/><circle cx="143.7" cy="177.4" r="4.2" fill="url(#gO)"/><path d="M226.7 181.8L228.5 190.5" class="bO" stroke-width="2.97"/><path d="M238.9 144.9L244.1 151.2" class="bO" stroke-width="2.97"/><path d="M208.0 215.9L216.3 212.8" class="bO" stroke-width="2.97"/><path d="M171.6 262.3L170.5 260.5" class="bO" stroke-width="2.96"/><circle cx="122.0" cy="215.0" r="4.2" fill="url(#gO)"/><circle cx="226.0" cy="178.6" r="4.2" fill="url(#gO)"/><circle cx="155.0" cy="141.7" r="4.2" fill="url(#gO)"/><path d="M127.8 153.6L121.8 151.5" class="bT" stroke-width="2.96"/><path d="M142.4 174.9L138.8 168.0" class="bO" stroke-width="2.98"/><path d="M149.9 206.9L151.3 209.0" class="bT" stroke-width="2.99"/><circle cx="205.0" cy="217.0" r="4.2" fill="url(#gO)"/><circle cx="237.0" cy="142.6" r="4.2" fill="url(#gO)"/><path d="M152.4 143.2L145.3 147.3" class="bO" stroke-width="2.98"/><path d="M224.7 176.1L220.6 168.4" class="bO" stroke-width="2.98"/><path d="M210.8 154.9L204.7 152.7" class="bC" stroke-width="2.96"/><path d="M234.4 144.1L226.7 148.6" class="bO" stroke-width="2.98"/><path d="M134.8 160.4L138.8 168.0" class="bT" stroke-width="2.98"/><path d="M142.3 271.6L141.3 269.6" class="bT" stroke-width="2.97"/><path d="M137.5 151.8L145.3 147.3" class="bT" stroke-width="2.98"/><circle cx="172.0" cy="263.0" r="4.2" fill="url(#gO)"/><path d="M122.4 215.6L123.7 217.4" class="bO" stroke-width="3.00"/><path d="M216.3 160.3L220.6 168.4" class="bC" stroke-width="2.98"/><path d="M218.4 153.5L226.7 148.6" class="bC" stroke-width="2.98"/><path d="M168.8 264.1L159.8 267.2" class="bO" stroke-width="2.99"/><circle cx="132.0" cy="155.0" r="9.0" fill="url(#gT)"/><circle cx="214.0" cy="156.0" r="7.1" fill="url(#gC)"/><path d="M125.2 157.2L115.5 160.4" class="bT" stroke-width="3.00"/><path d="M208.7 157.8L198.6 161.3" class="bC" stroke-width="3.00"/><path d="M184.3 165.2L179.7 164.1" class="bO" stroke-width="2.99"/><path d="M149.8 270.6L159.8 267.2" class="bT" stroke-width="2.99"/><circle cx="143.0" cy="273.0" r="9.0" fill="url(#gT)"/><path d="M106.7 163.2L115.5 160.4" class="bO" stroke-width="3.00"/><path d="M189.2 164.5L198.6 161.3" class="bO" stroke-width="3.00"/><path d="M152.5 210.8L151.3 209.0" class="bO" stroke-width="2.99"/><circle cx="103.5" cy="164.3" r="4.3" fill="url(#gO)"/><path d="M137.6 276.0L129.9 280.3" class="bT" stroke-width="3.01"/><path d="M132.4 155.4L132.9 156.0" class="bT" stroke-width="3.03"/><path d="M140.3 267.5L136.4 259.7" class="bT" stroke-width="3.02"/><circle cx="186.0" cy="165.6" r="4.3" fill="url(#gO)"/><path d="M123.0 284.2L129.9 280.3" class="bO" stroke-width="3.01"/><path d="M125.0 219.2L123.7 217.4" class="bT" stroke-width="3.00"/><path d="M132.9 252.6L136.4 259.7" class="bO" stroke-width="3.02"/><circle cx="120.4" cy="285.6" r="4.3" fill="url(#gO)"/><circle cx="153.0" cy="211.5" r="4.3" fill="url(#gO)"/><circle cx="131.6" cy="250.0" r="4.3" fill="url(#gO)"/><path d="M149.9 212.5L141.7 215.3" class="bO" stroke-width="3.03"/><path d="M131.0 246.6L129.2 237.7" class="bO" stroke-width="3.03"/><path d="M132.6 218.4L141.7 215.3" class="bT" stroke-width="3.03"/><path d="M127.4 227.7L129.2 237.7" class="bT" stroke-width="3.03"/><circle cx="126.0" cy="220.6" r="9.1" fill="url(#gT)"/><path d="M133.4 156.5L132.9 156.0" class="bO" stroke-width="3.03"/><circle cx="133.6" cy="156.7" r="4.3" fill="url(#gO)"/></g>
<g><circle cx="479.1" cy="200.9" r="3.9" fill="url(#gO)"/><circle cx="479.1" cy="200.9" r="3.9" fill="#fff" fill-opacity="0.24"/><circle cx="447.0" cy="249.0" r="3.9" fill="url(#gO)"/><circle cx="447.0" cy="249.0" r="3.9" fill="#fff" fill-opacity="0.23"/><path d="M444.0 250.0L434.4 253.2" class="bO" stroke-width="2.77"/><path d="M423.3 256.9L434.4 253.2" class="bT" stroke-width="2.77"/><path d="M479.3 201.5L479.9 203.3" class="bO" stroke-width="2.79"/><path d="M448.4 249.4L452.5 250.4" class="bO" stroke-width="2.79"/><circle cx="417.0" cy="259.0" r="8.3" fill="url(#gT)"/><circle cx="417.0" cy="259.0" r="8.3" fill="#fff" fill-opacity="0.19"/><circle cx="487.0" cy="137.6" r="8.4" fill="url(#gT)"/><circle cx="487.0" cy="137.6" r="8.4" fill="#fff" fill-opacity="0.18"/><path d="M411.8 262.4L403.4 267.9" class="bT" stroke-width="2.79"/><path d="M414.1 254.0L409.5 245.9" class="bT" stroke-width="2.79"/><path d="M480.8 140.0L470.3 144.1" class="bT" stroke-width="2.79"/><path d="M396.1 272.8L403.4 267.9" class="bO" stroke-width="2.79"/><circle cx="393.6" cy="274.4" r="3.9" fill="url(#gO)"/><circle cx="393.6" cy="274.4" r="3.9" fill="#fff" fill-opacity="0.16"/><path d="M461.2 147.7L470.3 144.1" class="bO" stroke-width="2.79"/><circle cx="502.0" cy="259.0" r="8.4" fill="url(#gT)"/><circle cx="502.0" cy="259.0" r="8.4" fill="#fff" fill-opacity="0.15"/><path d="M405.4 238.8L409.5 245.9" class="bO" stroke-width="2.79"/><circle cx="458.2" cy="148.8" r="4.0" fill="url(#gO)"/><circle cx="458.2" cy="148.8" r="4.0" fill="#fff" fill-opacity="0.15"/><path d="M391.7 272.1L386.0 265.4" class="bO" stroke-width="2.80"/><path d="M420.2 259.9L425.3 261.3" class="bT" stroke-width="2.82"/><path d="M496.6 262.4L488.1 267.7" class="bT" stroke-width="2.80"/><circle cx="404.0" cy="236.4" r="4.0" fill="url(#gO)"/><circle cx="404.0" cy="236.4" r="4.0" fill="#fff" fill-opacity="0.14"/><path d="M499.0 253.9L494.1 245.9" class="bT" stroke-width="2.81"/><circle cx="425.0" cy="196.0" r="4.0" fill="url(#gO)"/><circle cx="425.0" cy="196.0" r="4.0" fill="#fff" fill-opacity="0.14"/><path d="M401.3 238.0L392.1 243.4" class="bO" stroke-width="2.81"/><path d="M403.2 233.3L400.6 224.1" class="bO" stroke-width="2.81"/><path d="M487.0 138.1L487.0 139.0" class="bT" stroke-width="2.82"/><path d="M422.0 197.1L412.8 200.6" class="bO" stroke-width="2.81"/><path d="M480.5 272.4L488.1 267.7" class="bO" stroke-width="2.80"/><path d="M379.7 257.8L386.0 265.4" class="bT" stroke-width="2.80"/><circle cx="478.0" cy="274.0" r="4.0" fill="url(#gO)"/><circle cx="478.0" cy="274.0" r="4.0" fill="#fff" fill-opacity="0.12"/><path d="M381.4 249.6L392.1 243.4" class="bT" stroke-width="2.81"/><path d="M480.6 205.2L479.9 203.3" class="bT" stroke-width="2.79"/><path d="M397.8 213.5L400.6 224.1" class="bT" stroke-width="2.81"/><path d="M457.1 251.6L452.5 250.4" class="bT" stroke-width="2.79"/><path d="M402.3 204.6L412.8 200.6" class="bT" stroke-width="2.81"/><path d="M489.8 238.8L494.1 245.9" class="bO" stroke-width="2.81"/><path d="M458.3 149.4L458.6 151.2" class="bO" stroke-width="2.82"/><path d="M476.1 271.7L470.4 264.9" class="bO" stroke-width="2.82"/><circle cx="375.6" cy="253.0" r="8.4" fill="url(#gT)"/><circle cx="375.6" cy="253.0" r="8.4" fill="#fff" fill-opacity="0.10"/><path d="M426.4 196.4L430.7 197.5" class="bO" stroke-width="2.83"/><circle cx="396.0" cy="207.0" r="8.4" fill="url(#gT)"/><circle cx="396.0" cy="207.0" r="8.4" fill="#fff" fill-opacity="0.10"/><circle cx="488.4" cy="236.4" r="4.0" fill="url(#gO)"/><circle cx="488.4" cy="236.4" r="4.0" fill="#fff" fill-opacity="0.10"/><path d="M369.6 255.7L360.2 260.0" class="bT" stroke-width="2.82"/><path d="M374.6 246.3L372.9 235.6" class="bT" stroke-width="2.82"/><path d="M485.6 238.0L476.5 243.1" class="bO" stroke-width="2.82"/><path d="M487.6 233.3L485.3 223.8" class="bO" stroke-width="2.82"/><path d="M390.4 210.6L381.5 216.3" class="bT" stroke-width="2.82"/><path d="M392.4 201.9L386.7 193.9" class="bT" stroke-width="2.83"/><path d="M464.1 257.3L470.4 264.9" class="bT" stroke-width="2.82"/><path d="M351.8 263.7L360.2 260.0" class="bO" stroke-width="2.82"/><path d="M465.9 249.1L476.5 243.1" class="bT" stroke-width="2.82"/><path d="M371.5 226.2L372.9 235.6" class="bO" stroke-width="2.82"/><path d="M373.7 221.3L381.5 216.3" class="bO" stroke-width="2.82"/><path d="M482.6 213.1L485.3 223.8" class="bT" stroke-width="2.82"/><circle cx="349.0" cy="265.0" r="4.0" fill="url(#gO)"/><circle cx="349.0" cy="265.0" r="4.0" fill="#fff" fill-opacity="0.07"/><circle cx="371.0" cy="223.0" r="4.0" fill="url(#gO)"/><circle cx="371.0" cy="223.0" r="4.0" fill="#fff" fill-opacity="0.06"/><circle cx="460.0" cy="252.4" r="8.5" fill="url(#gT)"/><circle cx="460.0" cy="252.4" r="8.5" fill="#fff" fill-opacity="0.06"/><path d="M429.8 262.5L425.3 261.3" class="bO" stroke-width="2.82"/><circle cx="481.0" cy="206.5" r="8.5" fill="url(#gT)"/><circle cx="481.0" cy="206.5" r="8.5" fill="#fff" fill-opacity="0.06"/><path d="M381.7 186.8L386.7 193.9" class="bO" stroke-width="2.83"/><path d="M369.1 220.6L363.6 213.6" class="bO" stroke-width="2.84"/><path d="M453.6 254.7L443.4 258.5" class="bT" stroke-width="2.83"/><path d="M399.3 207.9L404.4 209.2" class="bT" stroke-width="2.85"/><path d="M458.9 245.7L457.1 235.0" class="bT" stroke-width="2.84"/><path d="M376.1 254.1L377.0 255.9" class="bT" stroke-width="2.85"/><path d="M475.2 210.0L465.9 215.7" class="bT" stroke-width="2.84"/><circle cx="380.0" cy="184.4" r="4.0" fill="url(#gO)"/><circle cx="380.0" cy="184.4" r="4.0" fill="#fff" fill-opacity="0.05"/><path d="M477.4 201.5L471.7 193.7" class="bT" stroke-width="2.84"/><circle cx="402.0" cy="140.6" r="4.0" fill="url(#gO)"/><circle cx="402.0" cy="140.6" r="4.0" fill="#fff" fill-opacity="0.04"/><path d="M487.0 139.7L487.0 139.0" class="bO" stroke-width="2.82"/><path d="M377.3 186.1L368.9 191.2" class="bO" stroke-width="2.84"/><path d="M379.5 181.3L377.9 172.1" class="bO" stroke-width="2.84"/><path d="M399.2 142.1L390.7 146.6" class="bO" stroke-width="2.84"/><path d="M434.3 261.8L443.4 258.5" class="bO" stroke-width="2.83"/><path d="M455.5 225.6L457.1 235.0" class="bO" stroke-width="2.84"/><path d="M457.7 220.7L465.9 215.7" class="bO" stroke-width="2.84"/><circle cx="431.3" cy="262.9" r="4.0" fill="url(#gO)"/><path d="M357.5 205.6L363.6 213.6" class="bT" stroke-width="2.84"/><circle cx="455.0" cy="222.4" r="4.0" fill="url(#gO)"/><path d="M359.3 197.0L368.9 191.2" class="bT" stroke-width="2.84"/><path d="M458.8 153.1L458.6 151.2" class="bT" stroke-width="2.82"/><path d="M376.1 161.7L377.9 172.1" class="bT" stroke-width="2.84"/><path d="M435.4 198.7L430.7 197.5" class="bT" stroke-width="2.83"/><path d="M381.0 151.8L390.7 146.6" class="bT" stroke-width="2.84"/><path d="M466.7 186.8L471.7 193.7" class="bO" stroke-width="2.84"/><path d="M453.2 219.9L448.1 212.8" class="bO" stroke-width="2.85"/><path d="M483.9 206.8L488.5 207.4" class="bT" stroke-width="2.86"/><path d="M460.7 253.7L461.7 255.6" class="bT" stroke-width="2.87"/><circle cx="353.5" cy="200.5" r="8.5" fill="url(#gT)"/><circle cx="375.0" cy="155.0" r="8.5" fill="url(#gT)"/><circle cx="465.0" cy="184.4" r="4.0" fill="url(#gO)"/><path d="M403.7 141.2L409.2 143.0" class="bO" stroke-width="2.86"/><circle cx="487.0" cy="140.0" r="4.0" fill="url(#gO)"/><path d="M352.1 193.8L349.7 182.8" class="bT" stroke-width="2.85"/><path d="M462.2 186.0L453.9 190.7" class="bO" stroke-width="2.85"/><path d="M464.4 181.2L462.5 171.8" class="bO" stroke-width="2.85"/><path d="M369.0 158.2L358.8 163.7" class="bT" stroke-width="2.86"/><path d="M484.1 141.5L475.2 146.0" class="bO" stroke-width="2.85"/><path d="M371.0 150.1L364.9 142.6" class="bT" stroke-width="2.86"/><path d="M431.5 263.4L432.0 265.0" class="bO" stroke-width="2.87"/><path d="M442.3 204.7L448.1 212.8" class="bT" stroke-width="2.85"/><path d="M444.5 196.1L453.9 190.7" class="bT" stroke-width="2.85"/><path d="M347.7 173.2L349.7 182.8" class="bO" stroke-width="2.85"/><path d="M349.9 168.5L358.8 163.7" class="bO" stroke-width="2.86"/><path d="M460.3 161.1L462.5 171.8" class="bT" stroke-width="2.85"/><path d="M465.1 151.3L475.2 146.0" class="bT" stroke-width="2.85"/><circle cx="347.0" cy="170.0" r="4.0" fill="url(#gO)"/><circle cx="438.5" cy="199.5" r="8.6" fill="url(#gT)"/><path d="M408.9 210.4L404.4 209.2" class="bO" stroke-width="2.85"/><path d="M488.7 140.8L493.7 143.2" class="bO" stroke-width="2.87"/><circle cx="459.0" cy="154.4" r="8.6" fill="url(#gT)"/><path d="M359.5 135.9L364.9 142.6" class="bO" stroke-width="2.86"/><path d="M377.7 257.5L377.0 255.9" class="bO" stroke-width="2.85"/><path d="M432.1 202.1L422.2 206.1" class="bT" stroke-width="2.87"/><path d="M378.3 155.9L383.5 157.2" class="bT" stroke-width="2.88"/><path d="M437.0 192.8L434.7 182.4" class="bT" stroke-width="2.87"/><path d="M354.1 201.8L354.9 203.7" class="bT" stroke-width="2.88"/><path d="M453.1 157.8L443.3 163.4" class="bT" stroke-width="2.87"/><circle cx="357.6" cy="133.6" r="4.1" fill="url(#gO)"/><path d="M455.1 149.5L449.1 142.0" class="bT" stroke-width="2.87"/><path d="M413.5 209.6L422.2 206.1" class="bO" stroke-width="2.87"/><path d="M432.7 173.2L434.7 182.4" class="bO" stroke-width="2.87"/><path d="M434.8 168.4L443.3 163.4" class="bO" stroke-width="2.87"/><circle cx="410.5" cy="210.8" r="4.1" fill="url(#gO)"/><circle cx="432.0" cy="170.0" r="4.1" fill="url(#gO)"/><path d="M492.6 207.8L488.5 207.4" class="bO" stroke-width="2.86"/><path d="M443.8 135.3L449.1 142.0" class="bO" stroke-width="2.87"/><circle cx="378.0" cy="258.0" r="4.1" fill="url(#gO)"/><path d="M415.1 145.0L409.2 143.0" class="bC" stroke-width="2.86"/><path d="M462.7 257.4L461.7 255.6" class="bO" stroke-width="2.87"/><path d="M430.5 167.4L425.7 159.2" class="bO" stroke-width="2.88"/><path d="M462.5 155.2L467.9 156.4" class="bT" stroke-width="2.90"/><path d="M439.1 200.9L439.9 203.2" class="bT" stroke-width="2.90"/><circle cx="442.0" cy="133.0" r="4.1" fill="url(#gO)"/><path d="M439.4 134.4L431.2 138.8" class="bO" stroke-width="2.89"/><path d="M432.6 266.8L432.0 265.0" class="bT" stroke-width="2.87"/><path d="M410.6 211.4L411.1 213.0" class="bO" stroke-width="2.90"/><circle cx="494.0" cy="208.0" r="4.1" fill="url(#gO)"/><path d="M420.6 150.4L425.7 159.2" class="bC" stroke-width="2.88"/><path d="M379.4 258.4L383.5 259.7" class="bO" stroke-width="2.90"/><path d="M422.4 143.6L431.2 138.8" class="bC" stroke-width="2.89"/><path d="M499.3 145.8L493.7 143.2" class="bT" stroke-width="2.87"/><circle cx="463.0" cy="258.0" r="4.1" fill="url(#gO)"/><circle cx="418.0" cy="146.0" r="6.9" fill="url(#gC)"/><path d="M388.0 158.3L383.5 157.2" class="bO" stroke-width="2.88"/><path d="M459.9 259.0L450.4 262.2" class="bO" stroke-width="2.90"/><path d="M355.7 205.4L354.9 203.7" class="bO" stroke-width="2.88"/><path d="M413.0 148.3L402.4 153.0" class="bC" stroke-width="2.90"/><path d="M439.6 265.8L450.4 262.2" class="bT" stroke-width="2.90"/><path d="M494.3 208.9L495.3 211.4" class="bO" stroke-width="2.92"/><path d="M392.6 157.4L402.4 153.0" class="bO" stroke-width="2.90"/><path d="M464.4 258.4L468.5 259.5" class="bO" stroke-width="2.92"/><circle cx="433.0" cy="268.0" r="8.7" fill="url(#gT)"/><circle cx="389.6" cy="158.7" r="4.1" fill="url(#gO)"/><circle cx="503.0" cy="147.6" r="8.7" fill="url(#gT)"/><path d="M427.4 271.3L419.1 276.1" class="bT" stroke-width="2.91"/><path d="M472.6 157.5L467.9 156.4" class="bO" stroke-width="2.90"/><path d="M429.9 262.8L425.2 255.0" class="bT" stroke-width="2.92"/><circle cx="356.0" cy="206.0" r="4.1" fill="url(#gO)"/><path d="M440.7 205.1L439.9 203.2" class="bO" stroke-width="2.90"/><path d="M418.0 146.7L418.0 148.2" class="bC" stroke-width="2.93"/><path d="M496.4 149.9L486.3 153.5" class="bT" stroke-width="2.92"/><path d="M411.6 280.5L419.1 276.1" class="bO" stroke-width="2.91"/><circle cx="409.0" cy="282.0" r="4.1" fill="url(#gO)"/><path d="M477.4 156.7L486.3 153.5" class="bO" stroke-width="2.92"/><circle cx="518.0" cy="268.0" r="8.8" fill="url(#gT)"/><path d="M411.6 214.8L411.1 213.0" class="bT" stroke-width="2.90"/><path d="M387.9 261.1L383.5 259.7" class="bT" stroke-width="2.90"/><path d="M421.1 248.1L425.2 255.0" class="bO" stroke-width="2.92"/><path d="M389.8 159.2L390.2 160.5" class="bO" stroke-width="2.93"/><circle cx="474.3" cy="157.8" r="4.1" fill="url(#gO)"/><path d="M407.0 279.8L401.4 273.6" class="bO" stroke-width="2.93"/><path d="M436.7 269.6L442.3 272.1" class="bT" stroke-width="2.94"/><path d="M512.4 271.3L504.1 276.1" class="bT" stroke-width="2.93"/><path d="M357.5 206.2L361.9 206.8" class="bO" stroke-width="2.94"/><circle cx="419.6" cy="245.6" r="4.1" fill="url(#gO)"/><path d="M514.7 262.8L509.9 255.0" class="bT" stroke-width="2.93"/><circle cx="441.0" cy="205.8" r="4.1" fill="url(#gO)"/><path d="M416.7 247.2L407.6 252.5" class="bO" stroke-width="2.93"/><path d="M418.8 242.4L416.4 233.2" class="bO" stroke-width="2.93"/><path d="M503.0 148.1L503.0 148.8" class="bT" stroke-width="2.95"/><path d="M437.9 206.9L428.8 210.1" class="bO" stroke-width="2.93"/><path d="M496.7 280.5L504.1 276.1" class="bO" stroke-width="2.93"/><path d="M395.2 266.7L401.4 273.6" class="bT" stroke-width="2.93"/><circle cx="494.0" cy="282.0" r="4.1" fill="url(#gO)"/><path d="M397.1 258.5L407.6 252.5" class="bT" stroke-width="2.93"/><path d="M496.3 214.1L495.3 211.4" class="bT" stroke-width="2.92"/><path d="M413.8 222.8L416.4 233.2" class="bT" stroke-width="2.93"/><path d="M472.9 260.7L468.5 259.5" class="bT" stroke-width="2.92"/><path d="M418.7 213.7L428.8 210.1" class="bT" stroke-width="2.93"/><path d="M505.6 248.1L509.9 255.0" class="bO" stroke-width="2.93"/><path d="M474.5 158.4L475.0 159.8" class="bO" stroke-width="2.95"/><path d="M492.0 279.7L486.4 273.4" class="bO" stroke-width="2.94"/><circle cx="391.0" cy="262.0" r="8.8" fill="url(#gT)"/><path d="M442.4 206.0L446.5 206.7" class="bO" stroke-width="2.95"/><circle cx="412.0" cy="216.0" r="8.8" fill="url(#gT)"/><circle cx="504.0" cy="245.6" r="4.2" fill="url(#gO)"/><path d="M384.9 264.9L375.9 269.2" class="bT" stroke-width="2.95"/><path d="M390.0 255.0L388.3 244.0" class="bT" stroke-width="2.95"/><path d="M501.1 247.2L492.2 252.3" class="bO" stroke-width="2.94"/><path d="M503.2 242.4L501.1 233.2" class="bO" stroke-width="2.95"/><path d="M406.0 219.5L397.2 224.7" class="bT" stroke-width="2.95"/><path d="M408.2 210.8L402.7 203.2" class="bT" stroke-width="2.95"/><path d="M418.0 149.6L418.0 148.2" class="bO" stroke-width="2.93"/><path d="M480.3 266.4L486.4 273.4" class="bT" stroke-width="2.94"/><path d="M367.9 273.0L375.9 269.2" class="bO" stroke-width="2.95"/><path d="M482.2 258.1L492.2 252.3" class="bT" stroke-width="2.94"/><path d="M386.9 234.3L388.3 244.0" class="bO" stroke-width="2.95"/><path d="M389.2 229.3L397.2 224.7" class="bO" stroke-width="2.95"/><path d="M498.6 222.9L501.1 233.2" class="bT" stroke-width="2.95"/><circle cx="365.0" cy="274.4" r="4.2" fill="url(#gO)"/><circle cx="386.4" cy="231.0" r="4.2" fill="url(#gO)"/><circle cx="476.0" cy="261.6" r="8.9" fill="url(#gT)"/><path d="M447.2 274.2L442.3 272.1" class="bO" stroke-width="2.94"/><circle cx="497.0" cy="216.0" r="8.9" fill="url(#gT)"/><path d="M390.7 162.0L390.2 160.5" class="bT" stroke-width="2.93"/><path d="M366.7 207.5L361.9 206.8" class="bT" stroke-width="2.94"/><path d="M397.8 196.5L402.7 203.2" class="bO" stroke-width="2.95"/><path d="M384.6 228.4L379.5 221.3" class="bO" stroke-width="2.96"/><path d="M469.7 264.8L460.3 269.4" class="bT" stroke-width="2.96"/><path d="M415.3 216.8L420.1 218.0" class="bT" stroke-width="2.97"/><path d="M474.9 254.6L473.1 243.9" class="bT" stroke-width="2.96"/><path d="M391.6 263.3L392.5 265.2" class="bT" stroke-width="2.98"/><path d="M490.9 219.5L481.9 224.7" class="bT" stroke-width="2.96"/><circle cx="396.0" cy="194.0" r="4.2" fill="url(#gO)"/><path d="M493.1 210.7L487.5 203.0" class="bT" stroke-width="2.96"/><circle cx="418.0" cy="150.0" r="4.2" fill="url(#gO)"/><path d="M503.0 149.4L503.0 148.8" class="bO" stroke-width="2.95"/><path d="M393.1 195.6L385.1 199.9" class="bO" stroke-width="2.96"/><path d="M395.5 190.7L393.9 181.0" class="bO" stroke-width="2.96"/><path d="M415.0 151.5L406.7 155.5" class="bO" stroke-width="2.97"/><path d="M452.0 273.5L460.3 269.4" class="bO" stroke-width="2.96"/><path d="M471.5 234.3L473.1 243.9" class="bO" stroke-width="2.96"/><path d="M473.9 229.3L481.9 224.7" class="bO" stroke-width="2.96"/><circle cx="449.0" cy="275.0" r="4.2" fill="url(#gO)"/><path d="M373.9 213.5L379.5 221.3" class="bT" stroke-width="2.96"/><circle cx="471.0" cy="231.0" r="4.2" fill="url(#gO)"/><path d="M376.2 204.7L385.1 199.9" class="bT" stroke-width="2.96"/><path d="M475.6 161.5L475.0 159.8" class="bT" stroke-width="2.95"/><path d="M392.1 170.0L393.9 181.0" class="bT" stroke-width="2.96"/><path d="M450.9 207.5L446.5 206.7" class="bT" stroke-width="2.95"/><path d="M397.4 159.9L406.7 155.5" class="bT" stroke-width="2.97"/><path d="M482.4 196.1L487.5 203.0" class="bO" stroke-width="2.96"/><path d="M469.1 228.4L463.9 221.3" class="bO" stroke-width="2.97"/><circle cx="370.0" cy="208.0" r="8.9" fill="url(#gT)"/><path d="M419.8 150.7L424.7 152.5" class="bO" stroke-width="2.98"/><circle cx="391.0" cy="163.0" r="8.9" fill="url(#gT)"/><circle cx="480.6" cy="193.6" r="4.2" fill="url(#gO)"/><circle cx="503.0" cy="149.6" r="4.2" fill="url(#gO)"/><path d="M368.3 201.1L365.9 191.2" class="bT" stroke-width="2.98"/><path d="M477.6 195.2L469.4 199.6" class="bO" stroke-width="2.98"/><path d="M480.1 190.3L478.7 180.6" class="bO" stroke-width="2.98"/><path d="M384.8 166.5L374.8 172.3" class="bT" stroke-width="2.98"/><path d="M500.0 151.1L491.7 155.1" class="bO" stroke-width="2.98"/><path d="M386.7 158.0L380.6 150.8" class="bT" stroke-width="2.98"/><path d="M458.1 213.5L463.9 221.3" class="bT" stroke-width="2.97"/><path d="M460.3 204.6L469.4 199.6" class="bT" stroke-width="2.98"/><path d="M363.8 182.3L365.9 191.2" class="bO" stroke-width="2.98"/><path d="M365.9 177.3L374.8 172.3" class="bO" stroke-width="2.98"/><path d="M477.1 169.7L478.7 180.6" class="bT" stroke-width="2.98"/><path d="M482.5 159.5L491.7 155.1" class="bT" stroke-width="2.98"/><circle cx="363.0" cy="179.0" r="4.2" fill="url(#gO)"/><circle cx="454.0" cy="208.0" r="9.0" fill="url(#gT)"/><path d="M424.4 219.0L420.1 218.0" class="bO" stroke-width="2.97"/><circle cx="476.0" cy="162.6" r="9.0" fill="url(#gT)"/><path d="M375.0 144.4L380.6 150.8" class="bO" stroke-width="2.98"/><path d="M393.3 267.0L392.5 265.2" class="bO" stroke-width="2.98"/><path d="M447.4 210.7L437.8 214.6" class="bT" stroke-width="2.99"/><path d="M394.1 164.0L398.5 165.3" class="bT" stroke-width="3.01"/><path d="M452.4 201.0L450.1 190.9" class="bT" stroke-width="2.99"/><path d="M370.5 209.5L371.2 211.6" class="bT" stroke-width="3.01"/><path d="M469.7 166.1L459.4 171.8" class="bT" stroke-width="2.99"/><circle cx="373.0" cy="142.0" r="4.2" fill="url(#gO)"/><path d="M471.6 157.6L465.2 150.4" class="bT" stroke-width="3.00"/><path d="M429.1 218.1L437.8 214.6" class="bO" stroke-width="2.99"/><path d="M448.1 181.8L450.1 190.9" class="bO" stroke-width="2.99"/><path d="M450.3 176.9L459.4 171.8" class="bO" stroke-width="2.99"/><circle cx="426.0" cy="219.4" r="4.2" fill="url(#gO)"/><circle cx="447.3" cy="178.5" r="4.2" fill="url(#gO)"/><path d="M430.1 154.6L424.7 152.5" class="bT" stroke-width="2.98"/><path d="M459.5 144.0L465.2 150.4" class="bO" stroke-width="3.00"/><circle cx="393.6" cy="267.6" r="4.2" fill="url(#gO)"/><path d="M445.8 176.0L441.7 169.1" class="bO" stroke-width="3.01"/><circle cx="457.4" cy="141.6" r="4.3" fill="url(#gO)"/><path d="M454.7 143.2L447.6 147.6" class="bO" stroke-width="3.01"/><path d="M437.2 161.4L441.7 169.1" class="bT" stroke-width="3.01"/><path d="M439.7 152.5L447.6 147.6" class="bT" stroke-width="3.01"/><circle cx="434.0" cy="156.0" r="9.1" fill="url(#gT)"/><path d="M402.5 166.5L398.5 165.3" class="bO" stroke-width="3.01"/><path d="M371.8 213.5L371.2 211.6" class="bO" stroke-width="3.01"/><path d="M427.2 158.5L416.6 162.4" class="bT" stroke-width="3.03"/><path d="M407.2 165.8L416.6 162.4" class="bO" stroke-width="3.03"/><circle cx="404.0" cy="167.0" r="4.3" fill="url(#gO)"/><circle cx="372.0" cy="214.2" r="4.3" fill="url(#gO)"/></g>
<g transform="translate(209.8 328.8)"><path d="M-1.25 -2V-20.5H-3.8L0 -29.6L3.8 -20.5H1.25V-2Z" fill="#0000f0"/><path d="M-2 -1.3L-18.5 -0.3L-18.7 -2.9L-28 1.3L-18.2 4.3L-18.4 2.1L-2 1.2Z" fill="#e60000"/><circle cx="0" cy="0" r="3" fill="url(#gW)"/><circle cx="5.2" cy="2.3" r="3.5" fill="url(#gG)"/><text x="0" y="-34" class="tr" text-anchor="middle">z</text><text x="-34" y="3" class="tr" text-anchor="middle">x</text><text x="10" y="7.2" class="tr" text-anchor="middle">y</text></g>
<g transform="translate(471.8 328.8)"><path d="M-1.25 -2V-20.5H-3.8L0 -29.6L3.8 -20.5H1.25V-2Z" fill="#0000f0"/><path d="M-2 -1.3L-18.5 -0.3L-18.7 -2.9L-28 1.3L-18.2 4.3L-18.4 2.1L-2 1.2Z" fill="#e60000"/><circle cx="0" cy="0" r="3" fill="url(#gW)"/><circle cx="5.2" cy="2.3" r="3.5" fill="url(#gG)"/><text x="0" y="-34" class="tr" text-anchor="middle">z</text><text x="-34" y="3" class="tr" text-anchor="middle">x</text><text x="10" y="7.2" class="tr" text-anchor="middle">y</text></g>
<path d="M68.0 116.6h27" class="ti"/>
<text x="106.0" y="121.2" class="lg">Ti</text>
<path d="M142.0 116.6h27" class="o"/>
<text x="178.5" y="121.2" class="lg">O</text>
<path d="M214.0 116.6h27" class="cu"/>
<text x="249.5" y="121.2" class="lg">Cu</text>
<text x="167.0" y="20.3" class="tt" text-anchor="middle">Cu doped TiO<tspan class="sub" dy="2.6">2</tspan><tspan dy="-2.6"> (101) surface</tspan></text>
<text x="167.0" y="38.2" class="tt" text-anchor="middle">type A</text>
<text x="426.6" y="20.3" class="tt" text-anchor="middle">Cu doped TiO<tspan class="sub" dy="2.6">2</tspan><tspan dy="-2.6"> (101) surface</tspan></text>
<text x="426.6" y="38.2" class="tt" text-anchor="middle">type B</text>
<text transform="translate(22.8 24.7) scale(0.925 1)" class="pl">(a)</text>
<text transform="translate(282.6 24.7) scale(0.925 1)" class="pl">(b)</text>
<text x="166.8" y="512.7" class="al" text-anchor="middle">DOS</text>
<text x="426.3" y="512.7" class="al" text-anchor="middle">DOS</text>
<text transform="translate(18.2 315.3) rotate(-90)" class="yl">E-E<tspan class="fs" dy="3.8">Fermi</tspan><tspan class="ss" dy="-3.8"> (eV)</tspan></text>
</svg>
</body></html>
